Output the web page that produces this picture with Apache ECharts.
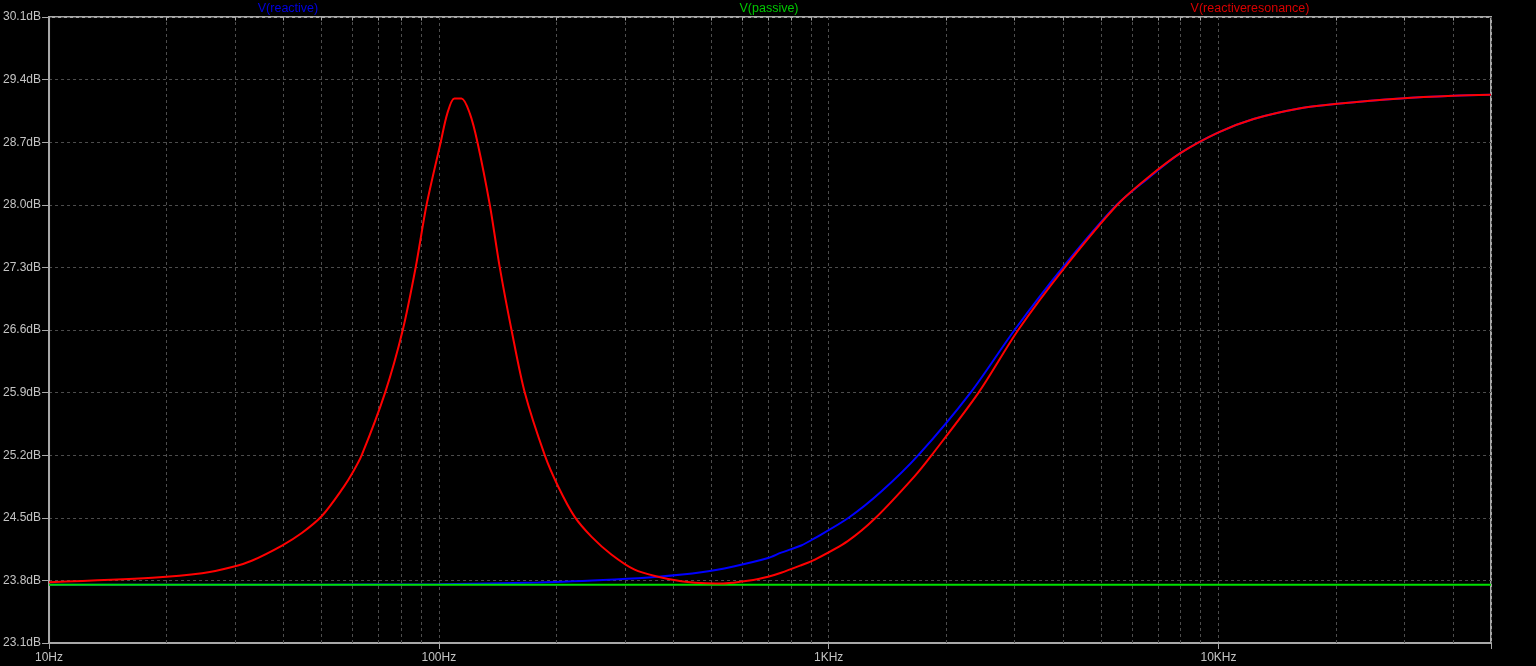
<!DOCTYPE html>
<html>
<head>
<meta charset="utf-8">
<script src="https://cdn.jsdelivr.net/npm/echarts@6/dist/echarts.min.js"></script>
<style>
html,body{margin:0;padding:0;background:#000;}
#chart{width:1536px;height:666px;}
</style>
</head>
<body>
<div id="chart"></div>
<script>
// ---- data (frequency in Hz, magnitude in dB) ----
var seriesNames = ['V(reactive)', 'V(passive)', 'V(reactiveresonance)'];

var reactiveFreq = [10, 40, 66, 100, 180, 282, 365, 471, 570, 699, 755, 850, 919, 1125, 1362, 1698, 2312, 2998, 3986, 5483, 6570, 8000, 10000, 12300, 16220, 20180, 29280, 40000, 50000];
var reactiveDb   = [23.75, 23.75, 23.753, 23.758, 23.777, 23.81, 23.84, 23.89, 23.956, 24.05, 24.11, 24.19, 24.27, 24.5, 24.79, 25.2, 25.9, 26.6, 27.3, 28.0, 28.29, 28.58, 28.81, 28.96, 29.08, 29.13, 29.19, 29.22, 29.23];

var passiveFreq = [10, 100, 1000, 10000, 50000];
var passiveDb   = [23.75, 23.75, 23.75, 23.75, 23.75];

var resonanceFreq = [10, 18.4, 24.7, 29.5, 33.1, 39.6, 44.5, 50.1, 56.9, 60.0, 63.4, 72.8, 80.8, 87.2, 93.0, 101.1, 105.1, 109.6, 114.3, 120.1, 125.6, 135.1, 143.3, 153.6, 166.1, 186.9, 202.3, 223.1, 246.2, 277, 317.8, 364.9, 418.6, 471, 530, 570, 620, 660, 699, 755, 850, 919, 1119, 1320, 1658, 1837, 2424, 3063, 4034, 5500, 6570, 8000, 10000, 12300, 16220, 20180, 29280, 40000, 50000];
var resonanceDb   = [23.78, 23.83, 23.88, 23.95, 24.02, 24.19, 24.33, 24.52, 24.84, 25.0, 25.2, 25.9, 26.6, 27.3, 28.0, 28.7, 29.02, 29.19, 29.19, 29.02, 28.7, 28.0, 27.3, 26.6, 25.9, 25.2, 24.85, 24.51, 24.29, 24.09, 23.92, 23.84, 23.79, 23.77, 23.765, 23.775, 23.795, 23.815, 23.84, 23.885, 23.97, 24.03, 24.24, 24.5, 24.96, 25.2, 25.9, 26.6, 27.3, 28.0, 28.3, 28.58, 28.81, 28.96, 29.08, 29.13, 29.19, 29.22, 29.23];

// axis ticks
var yMin = 23.1, yMax = 30.1, yStep = 0.7;
var xMin = 10, xMax = 50000;
var decadeLabels = {10: '10Hz', 100: '100Hz', 1000: '1KHz', 10000: '10KHz'};
var minorGridFreq = [20,30,40,50,60,70,80,90, 200,300,400,500,600,700,800,900, 2000,3000,4000,5000,6000,7000,8000,9000, 20000,30000,40000];

// ---- build ----
function pairs(f, v) { return f.map(function (x, i) { return [x, v[i]]; }); }

var gridColor = '#4d4d4d';
var axisColor = '#a8a8a8';
var labelColor = '#c4c4c4';

var markData = [];
minorGridFreq.forEach(function (f) {
  markData.push({ xAxis: f, lineStyle: { color: gridColor, type: [3, 3], width: 1 } });
});
// short tick marks at bottom and top for minor grid lines
minorGridFreq.forEach(function (f) {
  markData.push([{ coord: [f, yMin], lineStyle: { color: axisColor, type: 'solid', width: 1 } }, { coord: [f, yMin - 0.045] }]);
  markData.push([{ coord: [f, yMax], lineStyle: { color: axisColor, type: 'solid', width: 1 } }, { coord: [f, yMax - 0.04] }]);
});

var titleFont = { fontSize: 12.5, fontWeight: 'normal', fontFamily: 'Liberation Sans' };
function tfont(c) { return Object.assign({ color: c }, titleFont); }

var chart = echarts.init(document.getElementById('chart'));
chart.setOption({
  backgroundColor: '#000000',
  animation: false,
  textStyle: { fontFamily: 'Liberation Sans' },
  title: [
    { text: seriesNames[0], left: 288, top: 2, textAlign: 'center', padding: 0, textStyle: tfont('#0000e0') },
    { text: seriesNames[1], left: 769, top: 2, textAlign: 'center', padding: 0, textStyle: tfont('#00c800') },
    { text: seriesNames[2], left: 1250, top: 2, textAlign: 'center', padding: 0, textStyle: tfont('#d80000') }
  ],
  grid: { left: 47, right: 45, top: 17, bottom: 23, show: true, borderColor: axisColor, borderWidth: 2, backgroundColor: '#000000' },
  xAxis: {
    type: 'log',
    logBase: 10,
    min: xMin,
    max: xMax,
    axisLine: { show: true, lineStyle: { color: axisColor, width: 2 } },
    axisTick: { show: true, length: 6, lineStyle: { color: axisColor } },
    axisLabel: {
      color: labelColor, fontSize: 12, margin: 9, fontFamily: 'Liberation Sans',
      formatter: function (v) { var k = Math.round(v); return decadeLabels[k] || ''; }
    },
    splitLine: { show: true, lineStyle: { color: gridColor, type: [3, 3], width: 1 } }
  },
  yAxis: {
    type: 'value',
    min: yMin,
    max: yMax,
    interval: yStep,
    axisLine: { show: true, lineStyle: { color: axisColor, width: 2 } },
    axisTick: { show: true, length: 7, lineStyle: { color: axisColor } },
    axisLabel: {
      color: labelColor, fontSize: 12, margin: 8, fontFamily: 'Liberation Sans',
      formatter: function (v) { return v.toFixed(1) + 'dB'; }
    },
    splitLine: { show: true, lineStyle: { color: gridColor, type: [3, 3], width: 1 } }
  },
  series: [
    {
      name: seriesNames[0], type: 'line', data: pairs(reactiveFreq, reactiveDb),
      showSymbol: false, smooth: 0.3, lineStyle: { color: '#0000ff', width: 2 }, z: 3
    },
    {
      name: seriesNames[1], type: 'line', data: pairs(passiveFreq, passiveDb),
      showSymbol: false, lineStyle: { color: '#00e000', width: 2 }, z: 4, clip: false,
      markLine: { silent: true, symbol: ['none', 'none'], label: { show: false }, animation: false, data: markData, z: 1 }
    },
    {
      name: seriesNames[2], type: 'line', data: pairs(resonanceFreq, resonanceDb),
      showSymbol: false, smooth: 0.3, lineStyle: { color: '#ff0000', width: 2 }, z: 5
    }
  ]
});
</script>
</body>
</html>
